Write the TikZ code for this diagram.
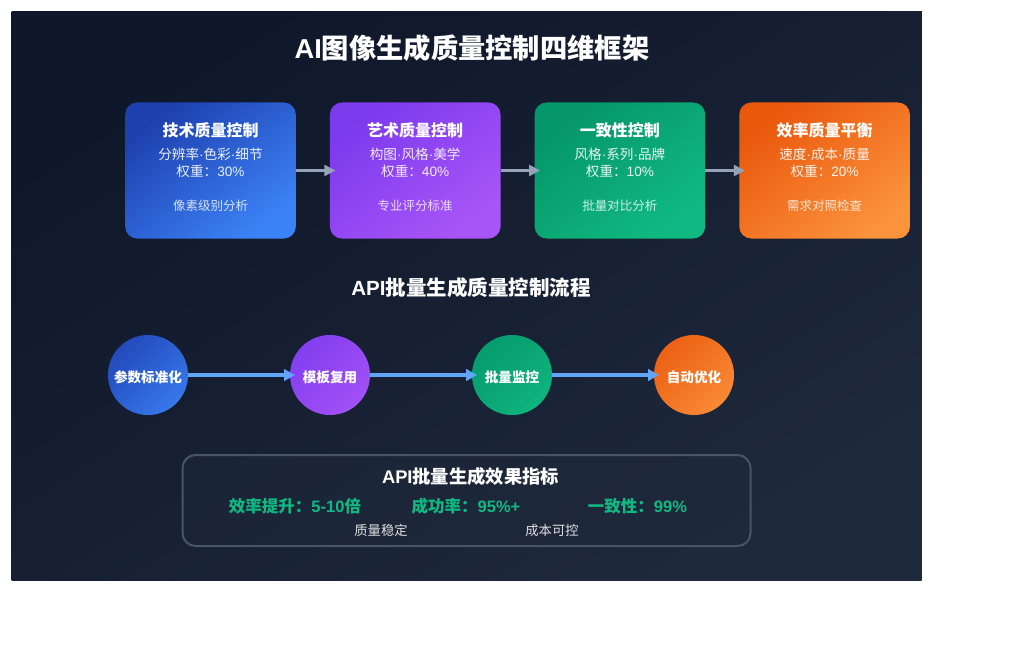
\documentclass[tikz,border=0pt]{standalone}
\usepackage{fontspec}
\usepackage{xcolor}
\usepackage{tikz}
\usetikzlibrary{positioning,arrows.meta}
\setmainfont{Noto Sans CJK SC}
\newfontfamily\lat{Liberation Sans}

\definecolor{bgdark}{HTML}{0F172A}
\definecolor{bglight}{HTML}{1E293B}
\definecolor{bluea}{HTML}{1E40AF}
\definecolor{blueb}{HTML}{3B82F6}
\definecolor{purplea}{HTML}{7C3AED}
\definecolor{purpleb}{HTML}{A855F7}
\definecolor{greena}{HTML}{059669}
\definecolor{greenb}{HTML}{10B981}
\definecolor{orangea}{HTML}{EA580C}
\definecolor{orangeb}{HTML}{FB923C}
\definecolor{flowgray}{HTML}{94A3B8}
\definecolor{flowblue}{HTML}{60A5FA}
\definecolor{panelline}{HTML}{475569}

\begin{document}
\begin{tikzpicture}[
    x=1pt, y=-1pt,
    cardnode/.style={rectangle, rounded corners=12pt, minimum width=170.6pt, minimum height=136pt, inner sep=0pt, outer sep=0pt, shading angle=38.5},
    roundnode/.style={circle, minimum size=80pt, inner sep=0pt, outer sep=0pt, shading angle=45},
    tintblue/.style={left color=bluea!#1!blueb, right color=blueb!#1!bluea},
    tintpurple/.style={left color=purplea!#1!purpleb, right color=purpleb!#1!purplea},
    tintgreen/.style={left color=greena!#1!greenb, right color=greenb!#1!greena},
    tintorange/.style={left color=orangea!#1!orangeb, right color=orangeb!#1!orangea},
    cardtitle/.style={text=white, font=\fontsize{16}{19}\selectfont\bfseries},
    cardsub/.style={text=white, text opacity=0.9, font=\fontsize{13.6}{16}\selectfont},
    cardnote/.style={text=white, text opacity=0.8, font=\fontsize{12.5}{15}\selectfont},
    roundtext/.style={text=white, font=\fontsize{13.6}{16}\selectfont\bfseries},
    headtext/.style={text=white, font=\bfseries},
    metrictext/.style={text=greenb, font=\fontsize{16.5}{19}\selectfont\bfseries},
    panelnote/.style={text=white, text opacity=0.85, font=\fontsize{13.3}{16}\selectfont},
    cardarrow/.style={-{Triangle[length=11pt,width=11pt]}, draw=flowgray, line width=2.4pt, shorten >=-5.5pt},
    roundarrow/.style={-{Triangle[length=11pt,width=11.5pt]}, draw=flowblue, line width=3.4pt, shorten >=-5pt}
    ]
        \useasboundingbox (0,0) rectangle (1024,671);
        \fill[left color=bgdark, right color=bglight, shading angle=32] (11.5,11.5) rectangle (921.5,580);

        %Title
        \node[headtext, font=\fontsize{27.3}{32}\selectfont\bfseries] (title) at (472,48) {{\lat AI}图像生成质量控制四维框架};

        %Cards
        \node[tintblue=100, cardnode]   (tech) at (210.5,170.5) {};
        \node[tintpurple=100, cardnode] (art)  [right=34.1pt of tech] {};
        \node[tintgreen=100, cardnode]  (same) [right=34.1pt of art]  {};
        \node[tintorange=100, cardnode] (cost) [right=34.1pt of same] {};

        %Card texts
        \node[cardtitle] (techA) at ([yshift=40pt]tech.center) {技术质量控制};
        \node[cardsub]   (techB) at ([yshift=16pt]tech.center) {分辨率{\lat ·}色彩{\lat ·}细节};
        \node[cardsub]   (techC) at ([yshift=-1pt]tech.center) {权重：{\lat 30\%}};
        \node[cardnote]  (techN) at ([yshift=-35pt]tech.center) {像素级别分析};
        \node[cardtitle] (artA)  at ([yshift=40pt]art.center)  {艺术质量控制};
        \node[cardsub]   (artB)  at ([yshift=16pt]art.center)  {构图{\lat ·}风格{\lat ·}美学};
        \node[cardsub]   (artC)  at ([yshift=-1pt]art.center)  {权重：{\lat 40\%}};
        \node[cardnote]  (artN)  at ([yshift=-35pt]art.center) {专业评分标准};
        \node[cardtitle] (sameA) at ([yshift=40pt]same.center) {一致性控制};
        \node[cardsub]   (sameB) at ([yshift=16pt]same.center) {风格{\lat ·}系列{\lat ·}品牌};
        \node[cardsub]   (sameC) at ([yshift=-1pt]same.center) {权重：{\lat 10\%}};
        \node[cardnote]  (sameN) at ([yshift=-35pt]same.center) {批量对比分析};
        \node[cardtitle] (costA) at ([yshift=40pt]cost.center) {效率质量平衡};
        \node[cardsub]   (costB) at ([yshift=16pt]cost.center) {速度{\lat ·}成本{\lat ·}质量};
        \node[cardsub]   (costC) at ([yshift=-1pt]cost.center) {权重：{\lat 20\%}};
        \node[cardnote]  (costN) at ([yshift=-35pt]cost.center) {需求对照检查};

        %Card lines
        \draw[cardarrow] (tech.east) -- (art.west);
        \draw[cardarrow] (art.east) -- (same.west);
        \draw[cardarrow] (same.east) -- (cost.west);

        %Flow
        \node[headtext, font=\fontsize{20.5}{24}\selectfont\bfseries] (flowtitle) at (471,288) {{\lat API}批量生成质量控制流程};
        \node[tintblue=85, roundnode]   (param) at (148,375) {};
        \node[tintpurple=85, roundnode] (tmpl)  [right=102pt of param] {};
        \node[tintgreen=85, roundnode]  (watch) [right=102pt of tmpl]  {};
        \node[tintorange=85, roundnode] (tune)  [right=102pt of watch] {};
        \node[roundtext] (paramT) at ([yshift=-2.5pt]param.center) {参数标准化};
        \node[roundtext] (tmplT)  at ([yshift=-2.5pt]tmpl.center)  {模板复用};
        \node[roundtext] (watchT) at ([yshift=-2.5pt]watch.center) {批量监控};
        \node[roundtext] (tuneT)  at ([yshift=-2.5pt]tune.center)  {自动优化};
        \draw[roundarrow] (param.east) -- (tmpl.west);
        \draw[roundarrow] (tmpl.east) -- (watch.west);
        \draw[roundarrow] (watch.east) -- (tune.west);

        %Panel
        \node[rectangle, rounded corners=13pt, draw=panelline, line width=2pt, fill=bglight, fill opacity=0.5, minimum width=568pt, minimum height=91pt] (panel) at (466.5,500.5) {};
        \node[headtext, font=\fontsize{18.3}{22}\selectfont\bfseries] (paneltitle) at (470.5,477) {{\lat API}批量生成效果指标};
        \node[metrictext] (mA) at (295,506) {效率提升：{\lat 5-10}倍};
        \node[metrictext] (mB) at (466,506) {成功率：{\lat 95\%+}};
        \node[metrictext] (mC) at (637.5,506) {一致性：{\lat 99\%}};
        \node[panelnote] (nA) at (381,530) {质量稳定};
        \node[panelnote] (nB) at (552,530) {成本可控};
\end{tikzpicture}
\end{document}
